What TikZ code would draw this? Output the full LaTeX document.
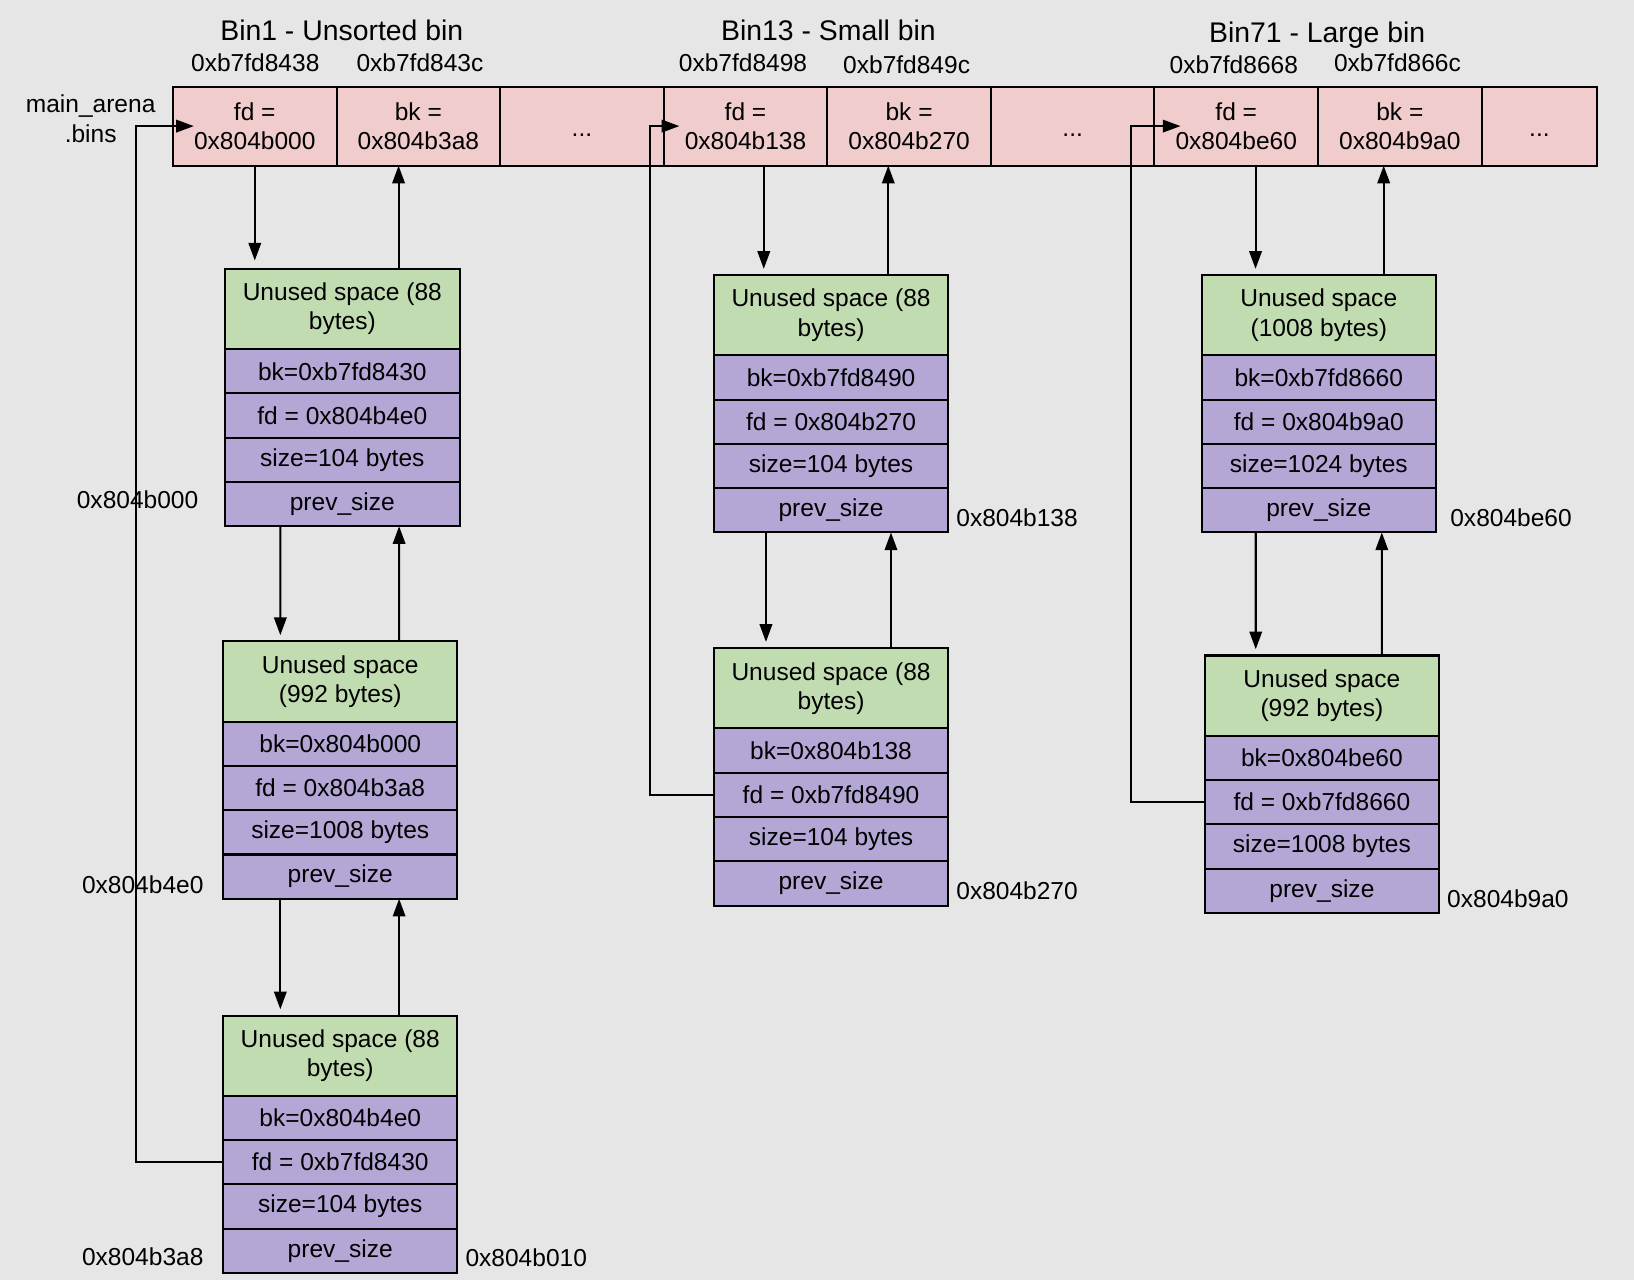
\documentclass[tikz,border=0pt]{standalone}
\usepackage{fontspec}
\setmainfont{Liberation Sans}
\usetikzlibrary{positioning,arrows.meta}
\definecolor{bggray}{HTML}{E6E6E6}
\definecolor{binpink}{HTML}{F0CCCC}
\definecolor{chunkgreen}{HTML}{C2DCB2}
\definecolor{chunkpurple}{HTML}{B4A7D6}
\begin{document}
\begin{tikzpicture}
  [x=0.02cm,y=-0.02cm,
   every node/.style={font=\fontsize{13.4}{16}\selectfont},
   bincell/.style={draw,fill=binpink,line width=1.1pt,minimum width=3.14cm,minimum height=1.52cm,inner sep=0pt,outer sep=0pt,align=center},
   unused/.style={draw,fill=chunkgreen,line width=1.1pt,minimum width=4.5cm,minimum height=1.54cm,inner sep=0pt,outer sep=0pt,align=center},
   field/.style={draw,fill=chunkpurple,line width=1.1pt,minimum width=4.5cm,minimum height=0.85cm,inner sep=0pt,outer sep=0pt},
   title/.style={font=\fontsize{15.5}{18}\selectfont},
   link/.style={line width=1.1pt,-{Triangle[length=0.34cm,width=0.24cm]}}]

  \fill[bggray] (0,0) rectangle (1568,1228);

  % bin titles and addresses
  \node[title] (bin1) at (328,29) {Bin1 - Unsorted bin};
  \node[title] (bin13) at (795,29) {Bin13 - Small bin};
  \node[title] (bin71) at (1264,34) {Bin71 - Large bin};
  \node (ad1) at (245,60) {0xb7fd8438};
  \node (ad2) at (403,60) {0xb7fd843c};
  \node (ad4) at (713,60) {0xb7fd8498};
  \node (ad5) at (870,62) {0xb7fd849c};
  \node (ad7) at (1184,62) {0xb7fd8668};
  \node (ad8) at (1341,60) {0xb7fd866c};
  \node[align=center] (arena) at (87,114) {main\_arena\\.bins};

  % main_arena.bins
  \node[bincell] (t1) at (244.5,121) {fd =\\0x804b000};
  \node[bincell,right=0pt of t1] (t2) {bk =\\0x804b3a8};
  \node[bincell,right=0pt of t2,text height=11pt] (t3) {...};
  \node[bincell,right=0pt of t3] (t4) {fd =\\0x804b138};
  \node[bincell,right=0pt of t4] (t5) {bk =\\0x804b270};
  \node[bincell,right=0pt of t5,text height=11pt] (t6) {...};
  \node[bincell,right=0pt of t6] (t7) {fd =\\0x804be60};
  \node[bincell,right=0pt of t7] (t8) {bk =\\0x804b9a0};
  \node[bincell,right=0pt of t8,minimum width=2.22cm,text height=11pt] (t9) {...};

  % unsorted bin chunks
  \node[unused] (a1u) at (328.5,296.5) {Unused space (88\\bytes)};
  \node[field,below=0pt of a1u] (a1bk) {bk=0xb7fd8430};
  \node[field,below=0pt of a1bk] (a1fd) {fd = 0x804b4e0};
  \node[field,below=0pt of a1fd] (a1sz) {size=104 bytes};
  \node[field,below=0pt of a1sz] (a1ps) {prev\_size};

  \node[unused] (a2u) at (326.5,654) {Unused space\\(992 bytes)};
  \node[field,below=0pt of a2u] (a2bk) {bk=0x804b000};
  \node[field,below=0pt of a2bk] (a2fd) {fd = 0x804b3a8};
  \node[field,below=0pt of a2fd] (a2sz) {size=1008 bytes};
  \node[field,below=0pt of a2sz] (a2ps) {prev\_size};

  \node[unused] (a3u) at (326.5,1013) {Unused space (88\\bytes)};
  \node[field,below=0pt of a3u] (a3bk) {bk=0x804b4e0};
  \node[field,below=0pt of a3bk] (a3fd) {fd = 0xb7fd8430};
  \node[field,below=0pt of a3fd] (a3sz) {size=104 bytes};
  \node[field,below=0pt of a3sz] (a3ps) {prev\_size};

  % small bin chunks
  \node[unused] (b1u) at (797.5,302.5) {Unused space (88\\bytes)};
  \node[field,below=0pt of b1u] (b1bk) {bk=0xb7fd8490};
  \node[field,below=0pt of b1bk] (b1fd) {fd = 0x804b270};
  \node[field,below=0pt of b1fd] (b1sz) {size=104 bytes};
  \node[field,below=0pt of b1sz] (b1ps) {prev\_size};

  \node[unused] (b2u) at (797.5,660.5) {Unused space (88\\bytes)};
  \node[field,below=0pt of b2u] (b2bk) {bk=0x804b138};
  \node[field,below=0pt of b2bk] (b2fd) {fd = 0xb7fd8490};
  \node[field,below=0pt of b2fd] (b2sz) {size=104 bytes};
  \node[field,below=0pt of b2sz] (b2ps) {prev\_size};

  % large bin chunks
  \node[unused] (c1u) at (1265.5,302.5) {Unused space\\(1008 bytes)};
  \node[field,below=0pt of c1u] (c1bk) {bk=0xb7fd8660};
  \node[field,below=0pt of c1bk] (c1fd) {fd = 0x804b9a0};
  \node[field,below=0pt of c1fd] (c1sz) {size=1024 bytes};
  \node[field,below=0pt of c1sz] (c1ps) {prev\_size};

  \node[unused] (c2u) at (1268.5,667.5) {Unused space\\(992 bytes)};
  \node[field,below=0pt of c2u] (c2bk) {bk=0x804be60};
  \node[field,below=0pt of c2bk] (c2fd) {fd = 0xb7fd8660};
  \node[field,below=0pt of c2fd] (c2sz) {size=1008 bytes};
  \node[field,below=0pt of c2sz] (c2ps) {prev\_size};

  % chunk addresses
  \node (la1) at (132,480) {0x804b000};
  \node (la2) at (137,849) {0x804b4e0};
  \node (la3) at (137,1206) {0x804b3a8};
  \node (ra3) at (505,1207) {0x804b010};
  \node (rb1) at (976,497) {0x804b138};
  \node (rb2) at (976,855) {0x804b270};
  \node (rc1) at (1450,497) {0x804be60};
  \node (rc2) at (1447,862) {0x804b9a0};

  % unsorted bin links
  \draw[link] (t1.south) -- ([yshift=0.16cm]a1u.north -| t1);
  \draw[link] ([xshift=-0.38cm]a1u.north -| t2) -- ([xshift=-0.38cm]t2.south);
  \draw[link] ([xshift=-1.19cm]a1ps.south) -- ([xshift=-1.15cm,yshift=0.12cm]a2u.north);
  \draw[link] ([xshift=1.13cm]a2u.north) -- ([xshift=1.09cm]a1ps.south);
  \draw[link] ([xshift=-1.15cm]a2ps.south) -- ([xshift=-1.15cm,yshift=0.12cm]a3u.north);
  \draw[link] ([xshift=1.13cm]a3u.north) -- ([xshift=1.13cm]a2ps.south);
  \draw[link] (a3fd.west) -- ([xshift=-1.68cm]a3fd.west) |- ([xshift=-1.17cm]t1.center);

  % small bin links
  \draw[link] ([xshift=0.35cm]t4.south) -- ([xshift=0.35cm,yshift=0.12cm]b1u.north -| t4);
  \draw[link] ([xshift=-0.4cm]b1u.north -| t5) -- ([xshift=-0.4cm]t5.south);
  \draw[link] ([xshift=-1.25cm]b1ps.south) -- ([xshift=-1.25cm,yshift=0.12cm]b2u.north);
  \draw[link] ([xshift=1.15cm]b2u.north) -- ([xshift=1.15cm]b1ps.south);
  \draw[link] (b2fd.west) -- ([xshift=-1.22cm]b2fd.west) |- ([xshift=-1.27cm]t4.center);

  % large bin links
  \draw[link] ([xshift=0.37cm]t7.south) -- ([xshift=0.37cm,yshift=0.12cm]c1u.north -| t7);
  \draw[link] ([xshift=-0.31cm]c1u.north -| t8) -- ([xshift=-0.31cm]t8.south);
  \draw[link] ([xshift=-1.21cm]c1ps.south) -- ([xshift=-1.27cm,yshift=0.12cm]c2u.north);
  \draw[link] ([xshift=1.15cm]c2u.north) -- ([xshift=1.21cm]c1ps.south);
  \draw[link] (c2fd.west) -- ([xshift=-1.42cm]c2fd.west) |- ([xshift=-1.07cm]t7.center);
\end{tikzpicture}
\end{document}
